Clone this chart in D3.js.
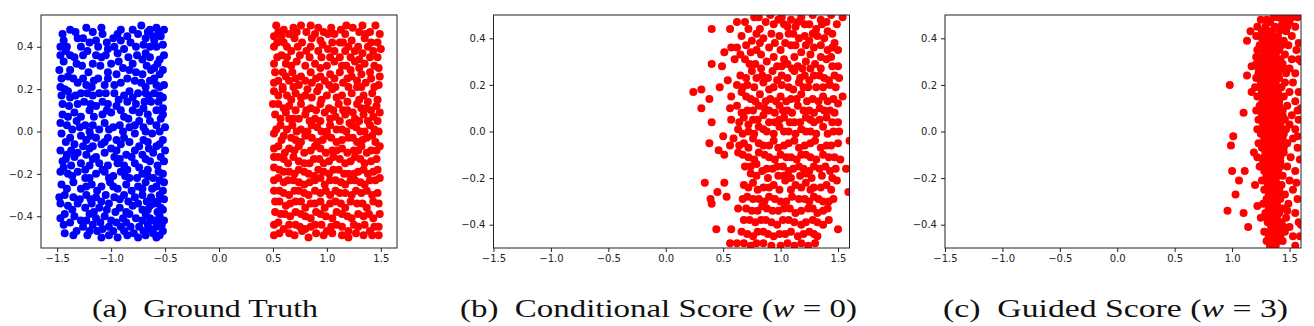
<!DOCTYPE html>
<html><head><meta charset="utf-8">
<script src="https://cdn.jsdelivr.net/npm/d3@7"></script>
<style>body{margin:0;background:#fff}svg{display:block}</style>
</head><body>
<svg id="c" width="1314" height="326"></svg>
<script>
// ---- data ----
const truthBlue = [
[-1.38,0.48],[-1.23,0.49],[-1.17,0.47],[-1.09,0.49],[-1.08,0.46],[-0.98,0.44],[-0.91,0.48],[-0.80,0.48],[-0.72,0.50],[-0.64,0.48],[-0.58,0.49],[-0.61,0.45],[-0.54,0.45],[-0.68,0.44],[-1.44,0.43],[-1.47,0.40],[-1.41,0.40],[-1.31,0.44],[-1.28,0.40],[-1.14,0.43],[-1.04,0.42],[-0.97,0.40],[-1.03,0.39],[-0.91,0.43],[-0.88,0.39],[-0.77,0.40],[-0.64,0.40],[-0.58,0.40],[-0.52,0.41],[-1.47,0.36],[-1.38,0.36],[-1.34,0.35],[-1.26,0.36],[-1.14,0.36],[-1.09,0.35],[-1.00,0.32],[-0.76,0.36],[-0.71,0.34],[-0.64,0.35],[-0.55,0.34],[-0.89,0.30],[-0.83,0.29],[-0.77,0.28],[-0.71,0.27],[-0.63,0.29],[-0.57,0.32],[-0.52,0.29],[-1.32,0.32],[-1.17,0.32],
[-1.46,0.25],[-1.40,0.26],[-1.35,0.25],[-1.47,0.21],[-1.43,0.20],[-1.26,0.25],[-1.23,0.22],[-1.18,0.21],[-1.12,0.25],[-1.06,0.22],[-1.03,0.25],[-0.91,0.23],[-0.78,0.24],[-0.72,0.23],[-0.64,0.24],[-0.60,0.25],[-0.55,0.21],[-0.51,0.22],[-0.83,0.19],[-0.88,0.17],[-0.75,0.18],[-0.68,0.18],[-0.60,0.18],[-1.46,0.17],[-1.38,0.16],[-1.28,0.18],[-1.17,0.17],[-1.11,0.18],[-1.05,0.18],[-1.08,0.14],[-1.03,0.13],[-1.25,0.14],[-1.19,0.13],[-1.45,0.13],[-0.85,0.14],[-0.77,0.13],[-0.69,0.14],[-0.63,0.14],[-0.56,0.14],[-0.52,0.16],[-0.74,0.09],[-0.80,0.10],[-0.66,0.08],[-0.58,0.10],[-0.91,0.10],[-1.34,0.09],[-1.28,0.07],[-1.20,0.10],[-1.08,0.08],[-1.00,0.09],[-1.45,0.08],
[-1.47,0.04],[-1.41,0.03],[-1.32,0.05],[-1.29,0.02],[-1.24,0.03],[-1.17,0.03],[-1.06,0.04],[-1.11,0.01],[-0.98,0.02],[-0.92,0.03],[-0.89,0.00],[-0.78,0.03],[-0.74,0.05],[-0.64,0.05],[-0.58,0.03],[-0.54,0.06],[-0.55,0.00],[-0.62,-0.01],[-0.68,0.00],[-0.78,-0.01],[-1.46,-0.01],[-1.38,-0.03],[-1.28,-0.02],[-1.23,-0.04],[-1.14,-0.03],[-1.03,-0.03],[-0.95,-0.04],[-1.34,-0.06],[-1.26,-0.07],[-1.20,-0.08],[-1.09,-0.06],[-1.00,-0.08],[-0.91,-0.06],[-0.83,-0.05],[-0.74,-0.07],[-0.66,-0.05],[-0.58,-0.07],[-0.52,-0.04],[-1.47,-0.09],[-1.41,-0.11],[-1.31,-0.10],[-1.23,-0.11],[-1.14,-0.12],[-1.06,-0.10],[-0.97,-0.12],[-0.86,-0.11],[-0.78,-0.09],[-0.71,-0.11],[-0.61,-0.10],[-0.54,-0.12],
[-1.45,-0.14],[-1.37,-0.16],[-1.28,-0.15],[-1.20,-0.16],[-1.11,-0.15],[-1.03,-0.16],[-0.94,-0.15],[-0.88,-0.16],[-0.78,-0.15],[-0.74,-0.17],[-0.64,-0.14],[-0.57,-0.16],[-1.47,-0.19],[-1.40,-0.20],[-1.31,-0.19],[-1.24,-0.22],[-1.14,-0.20],[-1.06,-0.19],[-0.98,-0.21],[-0.91,-0.19],[-0.83,-0.22],[-0.71,-0.20],[-0.61,-0.22],[-0.52,-0.20],[-1.46,-0.25],[-1.35,-0.24],[-1.28,-0.27],[-1.18,-0.25],[-1.09,-0.26],[-1.01,-0.24],[-0.94,-0.27],[-0.86,-0.25],[-0.75,-0.26],[-0.68,-0.24],[-0.58,-0.26],[-0.51,-0.24],[-1.43,-0.30],[-1.35,-0.31],[-1.23,-0.30],[-1.14,-0.31],[-1.05,-0.30],[-0.97,-0.31],[-0.88,-0.30],[-0.78,-0.31],[-0.71,-0.30],[-0.63,-0.31],[-0.55,-0.30],
[-1.47,-0.34],[-1.40,-0.35],[-1.31,-0.34],[-1.24,-0.36],[-1.18,-0.34],[-1.11,-0.36],[-1.02,-0.34],[-0.92,-0.36],[-0.80,-0.35],[-0.75,-0.34],[-0.71,-0.37],[-0.64,-0.35],[-0.60,-0.34],[-0.54,-0.36],[-1.43,-0.39],[-1.34,-0.40],[-1.28,-0.42],[-1.20,-0.39],[-1.14,-0.41],[-1.06,-0.40],[-1.00,-0.42],[-0.89,-0.41],[-0.83,-0.39],[-0.77,-0.41],[-0.68,-0.39],[-0.61,-0.42],[-0.55,-0.40],[-0.51,-0.42],[-1.44,-0.44],[-1.26,-0.45],[-1.17,-0.44],[-1.08,-0.46],[-1.02,-0.45],[-0.91,-0.45],[-0.82,-0.45],[-0.74,-0.45],[-0.66,-0.44],[-0.58,-0.45],[-1.43,-0.48],[-1.22,-0.49],[-1.09,-0.50],[-0.94,-0.50],[-0.85,-0.49],[-0.75,-0.50],[-0.68,-0.49],[-0.61,-0.48],[-0.55,-0.49],
[-1.45,0.46],[-1.33,0.47],[-1.26,0.44],[-1.20,0.42],[-1.12,0.40],[-0.94,0.46],[-0.85,0.45],[-0.75,0.46],[-0.66,0.47],[-0.56,0.47],[-0.51,0.48],[-0.70,0.41],[-0.60,0.43],[-0.82,0.42],[-1.42,0.38],[-1.22,0.38],[-1.05,0.36],[-0.94,0.37],[-0.84,0.35],[-0.68,0.37],[-0.51,0.36],[-1.44,0.33],[-1.27,0.31],[-1.10,0.31],[-0.93,0.33],[-0.80,0.32],[-0.67,0.31],[-0.60,0.30],[-1.48,0.29],[-1.38,0.29],[-1.21,0.28],[-1.03,0.28],[-0.95,0.27],[-0.55,0.27],
[-1.31,0.23],[-1.16,0.24],[-0.97,0.22],[-0.85,0.25],[-0.68,0.21],[-0.58,0.22],[-1.40,0.19],[-1.33,0.17],[-1.22,0.18],[-0.97,0.18],[-0.93,0.15],[-0.80,0.16],[-0.65,0.17],[-0.55,0.17],[-1.39,0.12],[-1.31,0.13],[-1.14,0.12],[-0.95,0.12],[-0.88,0.07],[-0.70,0.11],[-0.52,0.11],[-1.40,0.07],[-1.16,0.07],[-1.04,0.10],[-0.84,0.06],[-0.52,0.08],[-1.36,0.01],[-1.20,0.00],[-1.02,0.01],[-0.83,0.02],[-0.70,0.02],[-0.50,0.02],[-1.42,-0.05],[-1.19,-0.02],[-1.06,-0.05],[-0.88,-0.03],[-0.70,-0.04],[-0.55,-0.06],[-1.37,-0.09],[-1.17,-0.07],[-0.95,-0.09],[-0.65,-0.08],[-0.50,-0.09],
[-1.42,-0.13],[-1.34,-0.12],[-1.17,-0.13],[-0.92,-0.13],[-0.81,-0.12],[-0.68,-0.13],[-0.51,-0.14],[-1.44,-0.17],[-1.24,-0.18],[-1.08,-0.18],[-0.85,-0.18],[-0.66,-0.18],[-0.56,-0.19],[-1.36,-0.21],[-1.20,-0.22],[-1.02,-0.22],[-0.87,-0.21],[-0.76,-0.22],[-0.66,-0.21],[-0.55,-0.23],[-1.41,-0.27],[-1.23,-0.26],[-1.13,-0.28],[-0.98,-0.26],[-0.81,-0.28],[-0.71,-0.27],[-0.62,-0.27],[-0.52,-0.28],[-1.48,-0.31],[-1.29,-0.32],[-1.19,-0.32],[-1.09,-0.33],[-0.92,-0.32],[-0.84,-0.33],[-0.67,-0.33],[-0.57,-0.33],[-0.51,-0.32],
[-1.36,-0.37],[-1.16,-0.38],[-1.04,-0.37],[-0.96,-0.38],[-0.86,-0.38],[-0.66,-0.37],[-0.57,-0.38],[-0.52,-0.37],[-1.47,-0.41],[-1.38,-0.43],[-1.23,-0.42],[-1.10,-0.43],[-0.95,-0.43],[-0.86,-0.43],[-0.71,-0.42],[-0.64,-0.41],[-0.58,-0.42],[-0.53,-0.44],[-1.32,-0.47],[-1.20,-0.47],[-1.13,-0.47],[-0.98,-0.47],[-0.88,-0.47],[-0.70,-0.47],[-0.64,-0.46],[-0.52,-0.47],[-1.35,-0.49],[-1.02,-0.49],[-0.79,-0.48],[-0.58,-0.50]
];
const truthRed = [
[0.51,0.45],[0.55,0.47],[0.60,0.48],[0.65,0.46],[0.76,0.50],[0.85,0.50],[0.92,0.49],[1.01,0.46],[1.07,0.46],[1.17,0.46],[1.18,0.50],[1.30,0.47],[1.36,0.46],[1.45,0.50],[1.41,0.42],[1.47,0.42],[0.54,0.42],[0.60,0.42],[0.70,0.44],[0.77,0.42],[0.86,0.44],[0.94,0.43],[1.12,0.42],[1.23,0.43],[1.29,0.40],[1.35,0.44],[0.67,0.38],[0.85,0.40],[0.92,0.38],[1.01,0.39],[1.07,0.38],[1.17,0.38],[1.43,0.38],[0.54,0.35],[1.47,0.35],
[0.62,0.32],[0.72,0.33],[0.80,0.31],[0.89,0.32],[1.00,0.31],[1.07,0.33],[1.18,0.31],[1.26,0.33],[1.35,0.32],[1.44,0.31],[0.52,0.28],[0.59,0.28],[0.68,0.28],[0.76,0.26],[0.85,0.28],[0.94,0.26],[1.03,0.27],[1.12,0.28],[1.23,0.26],[1.32,0.27],[1.40,0.28],[1.49,0.26],[0.55,0.24],[0.65,0.24],[0.74,0.22],[0.86,0.23],[0.98,0.24],[1.08,0.21],[1.15,0.23],[1.28,0.21],[1.36,0.23],[1.44,0.21],
[0.51,0.19],[0.59,0.20],[0.63,0.17],[0.71,0.18],[0.80,0.17],[0.91,0.19],[1.00,0.17],[1.05,0.20],[1.14,0.17],[1.23,0.18],[1.34,0.17],[1.42,0.18],[1.47,0.15],[0.55,0.13],[0.65,0.12],[0.76,0.13],[0.85,0.11],[0.94,0.13],[1.02,0.11],[1.11,0.13],[1.19,0.10],[1.28,0.13],[1.37,0.11],[1.46,0.12],[0.52,0.08],[0.62,0.09],[0.69,0.06],[0.80,0.08],[0.89,0.06],[0.98,0.09],[1.08,0.07],[1.17,0.08],[1.26,0.06],[1.34,0.08],[1.43,0.07],
[0.57,0.03],[0.68,0.03],[0.76,0.01],[0.86,0.03],[0.95,0.00],[1.03,0.03],[1.14,0.01],[1.23,0.03],[1.31,0.00],[1.40,0.03],[1.48,0.00],[0.51,-0.01],[0.60,-0.02],[0.71,-0.04],[0.80,-0.02],[0.91,-0.05],[1.00,-0.02],[1.09,-0.05],[1.20,-0.03],[1.28,-0.05],[1.37,-0.03],[1.45,-0.05],[0.55,-0.07],[0.65,-0.08],[0.74,-0.07],[0.85,-0.09],[0.94,-0.08],[1.05,-0.09],[1.14,-0.08],[1.25,-0.09],[1.32,-0.07],[1.41,-0.09],
[0.51,-0.12],[0.60,-0.13],[0.69,-0.12],[0.79,-0.15],[0.88,-0.13],[0.97,-0.15],[1.06,-0.12],[1.17,-0.15],[1.26,-0.12],[1.35,-0.15],[1.46,-0.13],[0.56,-0.18],[0.65,-0.19],[0.74,-0.18],[0.83,-0.20],[0.92,-0.18],[1.02,-0.20],[1.11,-0.18],[1.20,-0.20],[1.29,-0.19],[1.38,-0.20],[1.47,-0.18],[0.51,-0.23],[0.60,-0.24],[0.69,-0.23],[0.79,-0.25],[0.89,-0.23],[0.98,-0.25],[1.08,-0.23],[1.17,-0.25],[1.26,-0.23],[1.35,-0.25],[1.45,-0.23],
[0.56,-0.28],[0.65,-0.30],[0.74,-0.28],[0.83,-0.30],[0.94,-0.29],[1.03,-0.30],[1.12,-0.29],[1.23,-0.30],[1.32,-0.29],[1.42,-0.30],[0.52,-0.33],[0.62,-0.35],[0.71,-0.33],[0.80,-0.36],[0.89,-0.34],[0.98,-0.36],[1.08,-0.33],[1.17,-0.36],[1.28,-0.34],[1.37,-0.36],[1.48,-0.34],[0.57,-0.39],[0.66,-0.40],[0.76,-0.39],[0.85,-0.41],[0.94,-0.39],[1.05,-0.41],[1.14,-0.39],[1.23,-0.41],[1.34,-0.40],[1.43,-0.41],[0.51,-0.44],[0.60,-0.46],[0.71,-0.44],[0.80,-0.46],[0.89,-0.44],[1.00,-0.47],[1.09,-0.44],[1.20,-0.47],[1.29,-0.45],[1.40,-0.47],[1.48,-0.45],[0.51,-0.49],[0.65,-0.48],[0.83,-0.50],[0.97,-0.49],[1.14,-0.49],[1.34,-0.49],[1.48,-0.49],
[0.53,0.50],[0.58,0.45],[0.69,0.49],[0.72,0.47],[0.81,0.47],[0.89,0.46],[0.97,0.47],[1.04,0.49],[1.13,0.48],[1.24,0.49],[1.33,0.50],[1.40,0.47],[1.49,0.46],[0.51,0.40],[0.63,0.40],[0.73,0.40],[0.81,0.38],[0.96,0.41],[1.05,0.42],[1.15,0.42],[1.20,0.40],[1.26,0.38],[1.33,0.37],[1.38,0.40],[1.50,0.39],
[0.58,0.36],[0.63,0.35],[0.75,0.36],[0.84,0.35],[0.95,0.35],[1.03,0.35],[1.12,0.35],[1.22,0.35],[1.30,0.34],[1.40,0.35],[0.51,0.32],[0.67,0.31],[0.94,0.30],[1.14,0.31],[1.22,0.29],[1.30,0.30],[1.48,0.30],[0.62,0.26],[0.71,0.25],[0.80,0.24],[0.90,0.25],[1.07,0.25],[1.19,0.25],[1.28,0.24],[1.41,0.25],[0.51,0.23],[0.59,0.21],[0.69,0.21],[0.82,0.20],[0.93,0.21],[1.02,0.22],[1.20,0.21],[1.32,0.21],[1.48,0.22],
[0.55,0.17],[0.67,0.15],[0.76,0.16],[0.86,0.16],[0.95,0.15],[1.09,0.16],[1.19,0.14],[1.30,0.15],[1.38,0.14],[0.50,0.13],[0.60,0.11],[0.71,0.10],[0.81,0.10],[0.90,0.10],[1.06,0.10],[1.15,0.10],[1.24,0.09],[1.32,0.11],[1.41,0.10],[1.49,0.09],[0.57,0.06],[0.65,0.06],[0.74,0.06],[0.84,0.05],[0.94,0.05],[1.03,0.06],[1.12,0.05],[1.21,0.04],[1.30,0.05],[1.38,0.05],[1.47,0.05],
[0.53,0.01],[0.63,0.01],[0.72,0.00],[0.82,0.00],[0.91,0.02],[1.00,0.00],[1.09,0.01],[1.18,0.00],[1.27,0.02],[1.35,0.00],[1.44,0.01],[0.58,-0.04],[0.67,-0.03],[0.76,-0.05],[0.86,-0.03],[0.96,-0.04],[1.04,-0.03],[1.14,-0.04],[1.24,-0.03],[1.33,-0.04],[1.42,-0.02],[1.49,-0.07],[0.51,-0.08],[0.61,-0.10],[0.70,-0.09],[0.79,-0.10],[0.89,-0.07],[0.99,-0.10],[1.09,-0.09],[1.19,-0.10],[1.29,-0.09],[1.37,-0.10],[1.46,-0.09],
[0.55,-0.12],[0.64,-0.15],[0.74,-0.14],[0.84,-0.15],[0.93,-0.13],[1.02,-0.14],[1.12,-0.13],[1.22,-0.14],[1.31,-0.13],[1.41,-0.14],[0.51,-0.17],[0.60,-0.19],[0.70,-0.20],[0.79,-0.19],[0.88,-0.21],[0.97,-0.19],[1.06,-0.18],[1.16,-0.20],[1.25,-0.20],[1.34,-0.18],[1.43,-0.19],[0.55,-0.22],[0.64,-0.23],[0.74,-0.24],[0.84,-0.24],[0.94,-0.22],[1.03,-0.23],[1.13,-0.24],[1.22,-0.23],[1.31,-0.24],[1.40,-0.23],[1.49,-0.22],
[0.51,-0.28],[0.60,-0.29],[0.70,-0.28],[0.79,-0.29],[0.89,-0.28],[0.99,-0.28],[1.08,-0.28],[1.17,-0.29],[1.27,-0.28],[1.37,-0.28],[1.47,-0.29],[0.56,-0.33],[0.66,-0.34],[0.76,-0.33],[0.85,-0.34],[0.94,-0.33],[1.03,-0.34],[1.13,-0.34],[1.22,-0.33],[1.33,-0.34],[1.43,-0.33],[0.52,-0.38],[0.61,-0.39],[0.71,-0.38],[0.80,-0.40],[0.90,-0.38],[0.99,-0.40],[1.09,-0.38],[1.19,-0.40],[1.29,-0.39],[1.39,-0.39],[1.49,-0.39],
[0.55,-0.43],[0.65,-0.44],[0.75,-0.45],[0.85,-0.45],[0.95,-0.44],[1.04,-0.45],[1.14,-0.45],[1.25,-0.44],[1.35,-0.44],[1.44,-0.45],[0.56,-0.48],[0.70,-0.49],[0.77,-0.47],[0.90,-0.48],[1.05,-0.48],[1.20,-0.50],[1.27,-0.48],[1.42,-0.49]
];
const condRed = [
[0.24,0.17],[0.31,0.18],[0.31,0.10],[0.40,0.44],[0.40,0.29],[0.38,0.14],[0.40,0.04],[0.38,-0.05],[0.34,-0.22],[0.39,-0.29],[0.40,-0.31],[0.44,-0.42],[0.45,-0.26],[0.46,-0.08],[0.47,0.19],[0.49,0.28],[0.51,0.34],[0.50,-0.02],[0.51,-0.10],[0.51,-0.22],[0.53,-0.28],[0.56,0.44],[0.57,0.36],[0.54,0.22],[0.57,0.15],[0.56,0.10],[0.57,0.05],[0.56,-0.06],[0.57,-0.42],[0.56,-0.48],
[0.81,0.49],[0.91,0.50],[1.01,0.49],[1.09,0.48],[1.18,0.49],[1.28,0.50],[1.35,0.48],[1.44,0.50],[1.54,0.49],[0.62,0.47],[0.72,0.44],[0.82,0.44],[0.94,0.46],[1.03,0.46],[1.13,0.45],[1.21,0.46],[1.36,0.46],[1.41,0.43],[0.66,0.41],[0.75,0.39],[0.85,0.40],[0.99,0.41],[1.07,0.42],[1.16,0.40],[1.25,0.39],[1.32,0.41],[1.47,0.38],
[0.62,0.36],[0.74,0.34],[0.82,0.38],[0.90,0.36],[1.00,0.35],[1.09,0.37],[1.18,0.34],[1.29,0.36],[1.41,0.35],[1.50,0.35],[0.60,0.31],[0.69,0.31],[0.78,0.29],[0.88,0.30],[0.97,0.28],[1.06,0.29],[1.15,0.28],[1.22,0.30],[1.30,0.29],[1.40,0.31],[1.50,0.28],[0.65,0.24],[0.75,0.26],[0.84,0.24],[0.93,0.26],[1.01,0.24],[1.12,0.26],[1.21,0.24],[1.29,0.24],[1.38,0.23],[1.47,0.24],[0.62,0.20],[0.71,0.20],[0.85,0.21],[0.94,0.19],[1.07,0.19],[1.16,0.21],[1.24,0.19],[1.37,0.19],[1.43,0.20],
[0.66,0.17],[0.74,0.14],[0.82,0.16],[0.91,0.14],[1.00,0.15],[1.09,0.14],[1.18,0.16],[1.28,0.14],[1.37,0.15],[1.46,0.14],[1.54,0.15],[0.62,0.11],[0.71,0.09],[0.81,0.11],[0.90,0.09],[0.99,0.11],[1.06,0.09],[1.15,0.11],[1.25,0.09],[1.34,0.10],[1.43,0.09],[0.68,0.06],[0.76,0.05],[0.85,0.07],[0.95,0.04],[1.03,0.06],[1.12,0.04],[1.22,0.06],[1.29,0.04],[1.40,0.06],[1.50,0.04],[0.63,0.01],[0.72,0.00],[0.81,0.02],[0.88,0.00],[0.99,0.02],[1.07,0.00],[1.18,0.01],[1.26,0.00],[1.37,0.02],[1.46,0.00],[1.60,-0.04],
[0.59,-0.03],[0.68,-0.05],[0.76,-0.03],[0.85,-0.06],[0.94,-0.04],[1.03,-0.06],[1.12,-0.04],[1.21,-0.06],[1.30,-0.04],[1.40,-0.06],[1.50,-0.05],[0.63,-0.09],[0.72,-0.11],[0.81,-0.09],[0.90,-0.11],[1.00,-0.10],[1.09,-0.11],[1.18,-0.10],[1.26,-0.11],[1.37,-0.10],[1.47,-0.11],[0.69,-0.15],[0.79,-0.14],[0.88,-0.16],[0.97,-0.15],[1.07,-0.17],[1.16,-0.15],[1.25,-0.17],[1.34,-0.16],[1.43,-0.17],[1.57,-0.16],[0.74,-0.18],[1.03,-0.19],[1.22,-0.18],
[0.68,-0.23],[0.76,-0.22],[0.85,-0.24],[0.94,-0.23],[1.04,-0.21],[1.13,-0.23],[1.22,-0.22],[1.29,-0.24],[1.40,-0.23],[1.49,-0.21],[1.59,-0.26],[0.71,-0.28],[0.81,-0.29],[0.90,-0.28],[1.00,-0.30],[1.10,-0.28],[1.21,-0.29],[1.29,-0.28],[1.37,-0.30],[1.46,-0.29],[0.63,-0.33],[0.75,-0.34],[0.84,-0.32],[0.93,-0.34],[1.03,-0.33],[1.13,-0.35],[1.24,-0.33],[1.32,-0.35],[1.41,-0.33],[0.68,-0.38],[0.78,-0.39],[0.87,-0.38],[0.97,-0.40],[1.07,-0.38],[1.18,-0.40],[1.28,-0.38],[1.37,-0.40],[1.50,-0.42],[0.66,-0.43],[0.76,-0.45],[0.85,-0.43],[0.94,-0.45],[1.04,-0.44],[1.15,-0.45],[1.25,-0.43],[1.32,-0.45],[0.62,-0.48],[0.74,-0.49],[0.85,-0.48],[1.00,-0.49],[1.12,-0.49],[1.24,-0.49],
[0.69,0.47],[0.77,0.49],[0.87,0.47],[0.98,0.48],[1.06,0.45],[1.15,0.47],[1.25,0.46],[1.31,0.44],[1.40,0.47],[1.49,0.46],[0.79,0.42],[0.92,0.42],[1.11,0.42],[1.21,0.41],[1.28,0.42],[1.38,0.40],[1.45,0.42],[0.70,0.37],[0.79,0.35],[0.95,0.38],[1.04,0.38],[1.13,0.37],[1.22,0.37],[1.35,0.37],[1.45,0.36],
[0.65,0.33],[0.83,0.33],[0.94,0.32],[1.03,0.31],[1.12,0.32],[1.26,0.33],[1.35,0.32],[1.44,0.32],[0.73,0.29],[0.83,0.27],[1.01,0.28],[1.10,0.27],[1.19,0.27],[1.26,0.27],[1.35,0.27],[1.45,0.28],[0.70,0.23],[0.79,0.23],[0.89,0.23],[0.97,0.22],[1.06,0.23],[1.17,0.23],[1.25,0.22],[1.34,0.24],[1.42,0.22],[1.51,0.23],[0.67,0.19],[0.77,0.19],[0.90,0.18],[1.01,0.20],[1.11,0.18],[1.20,0.19],[1.31,0.19],[1.48,0.19],
[0.70,0.15],[0.78,0.13],[0.87,0.13],[0.96,0.13],[1.05,0.13],[1.14,0.14],[1.23,0.13],[1.33,0.13],[1.41,0.13],[1.50,0.12],[0.66,0.08],[0.76,0.09],[0.86,0.10],[0.95,0.08],[1.02,0.09],[1.10,0.08],[1.20,0.09],[1.29,0.08],[1.38,0.09],[1.47,0.08],[0.64,0.04],[0.72,0.03],[0.80,0.05],[0.90,0.04],[0.99,0.05],[1.08,0.04],[1.17,0.04],[1.26,0.05],[1.34,0.05],[1.45,0.04],[0.67,-0.01],[0.77,-0.01],[0.85,0.01],[0.94,-0.01],[1.03,0.00],[1.13,-0.01],[1.22,0.00],[1.31,-0.01],[1.41,-0.01],[1.51,0.00],
[0.64,-0.06],[0.72,-0.07],[0.81,-0.05],[0.90,-0.06],[0.98,-0.07],[1.07,-0.05],[1.16,-0.07],[1.26,-0.05],[1.35,-0.07],[1.44,-0.06],[0.67,-0.10],[0.77,-0.12],[0.86,-0.10],[0.95,-0.12],[1.05,-0.11],[1.14,-0.12],[1.22,-0.10],[1.31,-0.12],[1.42,-0.11],[1.52,-0.12],[0.74,-0.15],[0.84,-0.17],[0.93,-0.16],[1.02,-0.15],[1.11,-0.16],[1.20,-0.16],[1.29,-0.15],[1.39,-0.15],[1.48,-0.16],[0.79,-0.19],[0.89,-0.20],[0.98,-0.19],[1.09,-0.20],[1.17,-0.19],[1.27,-0.20],[1.36,-0.19],[1.45,-0.20],
[0.72,-0.24],[0.80,-0.25],[0.90,-0.24],[0.99,-0.25],[1.09,-0.25],[1.18,-0.24],[1.26,-0.25],[1.35,-0.24],[1.44,-0.25],[0.67,-0.29],[0.76,-0.29],[0.86,-0.30],[0.95,-0.29],[1.05,-0.30],[1.16,-0.29],[1.25,-0.30],[1.33,-0.29],[1.42,-0.30],[0.70,-0.33],[0.80,-0.34],[0.88,-0.33],[0.98,-0.34],[1.08,-0.33],[1.18,-0.34],[1.28,-0.33],[1.37,-0.34],[0.73,-0.38],[0.83,-0.38],[0.92,-0.39],[1.02,-0.38],[1.12,-0.39],[1.22,-0.39],[1.32,-0.39],[1.42,-0.38],[0.71,-0.44],[0.80,-0.43],[0.89,-0.44],[0.99,-0.44],[1.09,-0.43],[1.20,-0.44],[1.29,-0.44],[0.68,-0.48],[0.79,-0.48],[0.92,-0.49],[1.06,-0.48],[1.18,-0.48],[1.30,-0.48]
];
const guidedRed = [
[0.98,0.20],[1.01,-0.02],[0.99,-0.06],[1.00,-0.17],[0.96,-0.34],[1.06,-0.21],[1.03,-0.27],[1.10,0.08],[1.11,-0.17],[1.10,-0.35],[1.14,-0.41],[1.13,0.24],[1.13,0.39],[1.16,0.43],[1.17,0.28],[1.17,0.17],[1.19,-0.09],[1.20,-0.23],[1.22,-0.32],[1.25,0.48],
[1.40,0.49],[1.46,0.49],[1.52,0.49],[1.57,0.49],[1.33,0.47],[1.44,0.47],[1.50,0.47],[1.22,0.45],[1.37,0.45],[1.42,0.45],[1.55,0.45],[1.26,0.43],[1.30,0.43],[1.47,0.43],[1.21,0.41],[1.35,0.41],[1.40,0.41],[1.52,0.41],[1.28,0.39],[1.33,0.39],[1.45,0.39],[1.24,0.37],[1.30,0.37],[1.37,0.37],[1.49,0.37],[1.22,0.35],[1.34,0.35],[1.41,0.35],[1.56,0.35],[1.27,0.33],[1.31,0.33],[1.38,0.33],[1.46,0.33],[1.25,0.31],[1.33,0.31],[1.42,0.31],[1.52,0.31],[1.58,0.31],
[1.21,0.29],[1.29,0.29],[1.36,0.29],[1.44,0.29],[1.26,0.27],[1.32,0.27],[1.39,0.27],[1.50,0.27],[1.23,0.25],[1.30,0.25],[1.35,0.25],[1.47,0.25],[1.55,0.25],[1.21,0.23],[1.28,0.23],[1.33,0.23],[1.41,0.23],[1.25,0.21],[1.31,0.21],[1.38,0.21],[1.46,0.21],[1.53,0.21],[1.20,0.19],[1.29,0.19],[1.35,0.19],[1.43,0.19],[1.26,0.17],[1.32,0.17],[1.40,0.17],[1.50,0.17],[1.58,0.17],[1.22,0.15],[1.30,0.15],[1.36,0.15],[1.45,0.15],[1.28,0.13],[1.34,0.13],[1.41,0.13],[1.55,0.13],
[1.24,0.11],[1.31,0.11],[1.38,0.11],[1.48,0.11],[1.21,0.09],[1.29,0.09],[1.35,0.09],[1.44,0.09],[1.57,0.09],[1.26,0.07],[1.33,0.07],[1.40,0.07],[1.52,0.07],[1.23,0.05],[1.30,0.05],[1.37,0.05],[1.46,0.05],[1.58,0.05],[1.27,0.03],[1.34,0.03],[1.42,0.03],[1.50,0.03],[1.22,0.01],[1.31,0.01],[1.38,0.01],[1.47,0.01],[1.55,0.01],[1.25,-0.01],[1.33,-0.01],[1.40,-0.01],
[1.28,-0.03],[1.36,-0.03],[1.44,-0.03],[1.53,-0.03],[1.23,-0.05],[1.31,-0.05],[1.38,-0.05],[1.48,-0.05],[1.26,-0.07],[1.34,-0.07],[1.41,-0.07],[1.57,-0.07],[1.29,-0.09],[1.36,-0.09],[1.45,-0.09],[1.22,-0.11],[1.32,-0.11],[1.39,-0.11],[1.51,-0.11],[1.27,-0.13],[1.35,-0.13],[1.42,-0.13],[1.24,-0.15],[1.31,-0.15],[1.37,-0.15],[1.48,-0.15],[1.28,-0.17],[1.34,-0.17],[1.40,-0.17],[1.55,-0.17],[1.30,-0.19],[1.36,-0.19],[1.44,-0.19],
[1.26,-0.21],[1.33,-0.21],[1.38,-0.21],[1.50,-0.21],[1.31,-0.23],[1.37,-0.23],[1.43,-0.23],[1.28,-0.25],[1.35,-0.25],[1.41,-0.25],[1.53,-0.25],[1.32,-0.27],[1.38,-0.27],[1.46,-0.27],[1.30,-0.29],[1.36,-0.29],[1.42,-0.29],[1.57,-0.29],[1.27,-0.31],[1.34,-0.31],[1.39,-0.31],[1.49,-0.31],[1.32,-0.33],[1.37,-0.33],[1.44,-0.33],[1.29,-0.35],[1.35,-0.35],[1.41,-0.35],[1.55,-0.35],
[1.25,-0.37],[1.33,-0.37],[1.39,-0.37],[1.47,-0.37],[1.31,-0.39],[1.36,-0.39],[1.43,-0.39],[1.58,-0.39],[1.34,-0.41],[1.40,-0.41],[1.50,-0.41],[1.28,-0.43],[1.37,-0.43],[1.42,-0.43],[1.46,-0.43],[1.32,-0.45],[1.39,-0.45],[1.53,-0.45],[1.30,-0.47],[1.36,-0.47],[1.44,-0.47],[1.33,-0.49],[1.38,-0.49],[1.55,-0.49],
[1.30,0.48],[1.36,0.49],[1.48,0.45],[1.29,0.45],[1.34,0.43],[1.41,0.43],[1.26,0.40],[1.31,0.41],[1.39,0.39],[1.27,0.36],[1.35,0.37],[1.43,0.37],[1.29,0.34],[1.36,0.34],[1.21,0.32],[1.30,0.31],[1.37,0.31],[1.25,0.29],[1.33,0.29],[1.40,0.29],[1.23,0.27],[1.29,0.27],[1.36,0.26],[1.45,0.27],[1.27,0.25],[1.32,0.25],[1.40,0.25],[1.25,0.23],[1.30,0.23],[1.37,0.23],[1.28,0.21],[1.35,0.21],[1.24,0.19],[1.32,0.19],[1.39,0.19],[1.29,0.17],[1.36,0.17],[1.25,0.15],[1.33,0.15],[1.40,0.15],[1.31,0.13],[1.37,0.13],[1.26,0.12],[1.34,0.11],[1.41,0.11],[1.25,0.09],[1.32,0.09],[1.39,0.09],[1.29,0.07],[1.36,0.07],[1.44,0.07],[1.27,0.05],[1.34,0.05],[1.41,0.05],[1.30,0.03],[1.38,0.03],[1.26,0.01],[1.34,0.01],[1.42,0.01],[1.29,-0.01],[1.36,-0.01],[1.45,-0.01],[1.32,-0.03],[1.40,-0.03],[1.27,-0.05],[1.34,-0.05],[1.42,-0.05],[1.30,-0.07],[1.37,-0.07],[1.45,-0.07],[1.33,-0.09],[1.40,-0.09],[1.28,-0.11],[1.35,-0.11],[1.42,-0.11],[1.31,-0.13],[1.38,-0.13],[1.28,-0.15],[1.34,-0.15],[1.42,-0.15],[1.31,-0.17],[1.37,-0.17],[1.33,-0.19],[1.40,-0.19],[1.30,-0.21],[1.36,-0.21],[1.34,-0.23],[1.40,-0.23],[1.31,-0.25],[1.38,-0.25],[1.35,-0.27],[1.42,-0.27],[1.33,-0.29],[1.39,-0.29],[1.31,-0.31],[1.37,-0.31],[1.35,-0.33],[1.41,-0.33],[1.32,-0.35],[1.38,-0.35],[1.30,-0.37],[1.36,-0.37],[1.34,-0.39],[1.40,-0.39],[1.37,-0.41],[1.45,-0.41],[1.33,-0.43],[1.40,-0.43],[1.35,-0.45],[1.42,-0.45],[1.33,-0.47],[1.40,-0.47],[1.35,-0.49],[1.60,0.30],[1.60,0.10],[1.59,-0.12],[1.60,-0.40],[1.59,-0.45],[1.58,0.38],[1.57,-0.02],[1.56,-0.22],[1.48,-0.34]
];
const xTicks = [-1.5, -1.0, -0.5, 0.0, 0.5, 1.0, 1.5];
const yTicks = [-0.4, -0.2, 0.0, 0.2, 0.4];
const captionLabels = ["(a)", "(b)", "(c)"];
const captionTexts = [["Ground Truth"], ["Conditional Score (", "w", " = 0)"], ["Guided Score (", "w", " = 3)"]];

// ---- layout ----
const panels = [
  {x0: 41,    x1: 397,   xd: [-1.65, 1.65], yd: [-0.55, 0.55], sets: [[truthBlue, "#0000ff"], [truthRed, "#ff0000"]], cap: [92, 318]},
  {x0: 493.5, x1: 849.5, xd: [-1.5, 1.6],   yd: [-0.5, 0.5],   sets: [[condRed, "#ff0000"]], cap: [460, 857]},
  {x0: 945,   x1: 1301,  xd: [-1.5, 1.6],   yd: [-0.5, 0.5],   sets: [[guidedRed, "#ff0000"]], cap: [943, 1288]}
];
const plotTop = 15, plotBottom = 248, R = 4.0;
const svg = d3.select("#c");
const fmt = d3.format(".1f");

panels.forEach((p, i) => {
  const x = d3.scaleLinear().domain(p.xd).range([p.x0, p.x1]);
  const y = d3.scaleLinear().domain(p.yd).range([plotBottom, plotTop]);
  const g = svg.append("g");
  const cid = "clip" + i;
  svg.append("clipPath").attr("id", cid).append("rect")
    .attr("x", p.x0).attr("y", plotTop).attr("width", p.x1 - p.x0).attr("height", plotBottom - plotTop);
  const pts = g.append("g").attr("clip-path", `url(#${cid})`);
  p.sets.forEach(([data, col]) => {
    pts.selectAll(null).data(data).enter().append("circle")
      .attr("cx", d => x(d[0])).attr("cy", d => y(d[1])).attr("r", R).attr("fill", col);
  });
  g.append("rect").attr("x", p.x0).attr("y", plotTop).attr("width", p.x1 - p.x0).attr("height", plotBottom - plotTop)
    .attr("fill", "none").attr("stroke", "#222").attr("stroke-width", 1);
  const ax = g.append("g").attr("transform", `translate(0,${plotBottom})`)
    .call(d3.axisBottom(x).tickValues(xTicks).tickFormat(fmt).tickSize(4).tickPadding(3));
  const ay = g.append("g").attr("transform", `translate(${p.x0},0)`)
    .call(d3.axisLeft(y).tickValues(yTicks).tickFormat(fmt).tickSize(4).tickPadding(4));
  [ax, ay].forEach(a => {
    a.select(".domain").remove();
    a.selectAll("line").attr("stroke", "#222");
    a.selectAll("text").attr("fill", "#222").style("font-family", "DejaVu Sans").style("font-size", "10px");
  });
  const t = svg.append("text").attr("x", p.cap[0]).attr("y", 317)
    .style("font-family", "Liberation Serif").style("font-size", "26px").attr("fill", "#111")
    .attr("textLength", p.cap[1] - p.cap[0]).attr("lengthAdjust", "spacingAndGlyphs")
    .style("white-space", "pre");
  t.append("tspan").text(captionLabels[i] + "  ");
  captionTexts[i].forEach(s => {
    const ts = t.append("tspan").text(s);
    if (s === "w") ts.style("font-style", "italic");
  });
});
</script>
</body></html>
